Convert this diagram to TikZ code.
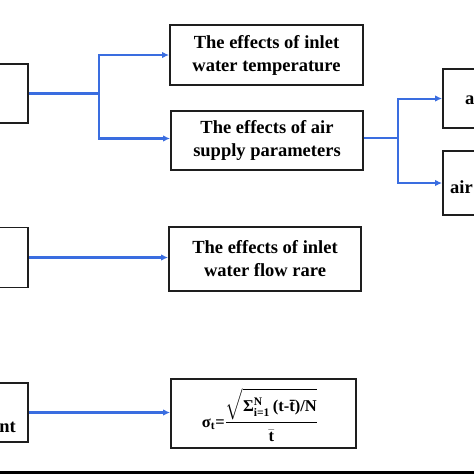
\documentclass[tikz,border=0pt]{standalone}
\usepackage{amsmath}
\usepackage{fontspec}
\setmainfont{Liberation Serif}
\usetikzlibrary{arrows.meta}
\definecolor{linkblue}{HTML}{3A6DE0}
\definecolor{boxline}{HTML}{1E1E1E}
\definecolor{baseline}{HTML}{333333}
\begin{document}
\begin{tikzpicture}[x=1pt,y=-1pt,
  box/.style={draw=boxline,line width=1.8pt,inner sep=0pt,align=center,
    font=\fontsize{18.5}{23}\selectfont\bfseries},
  lbl/.style={inner sep=0pt,font=\fontsize{18.5}{23}\selectfont\bfseries},
  arr/.style={draw=linkblue,line width=2.4pt,-{Latex[length=7pt,width=6.5pt]}},
  arrthin/.style={arr,line width=2pt}]
\useasboundingbox (0,0) rectangle (474,474);
\clip (0,0) rectangle (474,474);
% left boxes (cut by the edge)
\node[box,minimum width=80pt,minimum height=59pt] (L1) at (-12,93.5) {};
\node[box,minimum width=80pt,minimum height=60pt] (L2) at (-12,257.5) {};
\node[box,minimum width=80pt,minimum height=59pt] (L3) at (-12,412.5) {};
\node[lbl,anchor=base east] (L3t) at (16,432) {nt};
% middle boxes
\node[box,minimum width=193pt,minimum height=60pt] (T1) at (266.5,55) {The effects of inlet\\water temperature};
\node[box,minimum width=192pt,minimum height=59pt] (T2) at (267,140.5) {The effects of air\\supply parameters};
\node[box,minimum width=192pt,minimum height=64pt] (T3) at (265,259) {The effects of inlet\\water flow rare};
\node[box,minimum width=185pt,minimum height=69pt] (T4) at (263.5,413.5) {};
\node[inner sep=0pt] (F) at (260,415) {\fontsize{16.5}{19}\selectfont\bfseries
  $\text{σ}_{\text{t}}\text{=}\dfrac{\sqrt{\rule{0pt}{17pt}\text{Σ}^{\text{N}}_{\text{i=1}}\,\text{(t-\=t)/N}}\rule[-7pt]{0pt}{7pt}}{\rule{0pt}{16pt}\bar{\text{t}}}$};
% right boxes (cut by the edge)
\node[box,minimum width=100pt,minimum height=59pt] (R1) at (493,98.5) {};
\node[box,minimum width=100pt,minimum height=64pt] (R2) at (493,183) {};
\node[lbl,anchor=west] (R1t) at (465,100) {a};
\node[lbl,anchor=west] (R2t) at (450,187) {air};
% connectors
\draw[arr] (L1.east) -- ++(70,0) |- (T1.west);
\draw[arr] (L1.east) -- ++(70,0) |- ([yshift=2pt]T2.west);
\draw[arrthin] ([yshift=3pt]T2.east) -- ++(34,0) |- (R1.west);
\draw[arrthin] ([yshift=3pt]T2.east) -- ++(34,0) |- (R2.west);
\draw[arr] (L2.east) -- (L2.east -| T3.west);
\draw[arr] (L3.east) -- (L3.east -| T4.west);
% bottom rule
\fill[baseline] (0,471) rectangle (474,474);
\end{tikzpicture}
\end{document}
